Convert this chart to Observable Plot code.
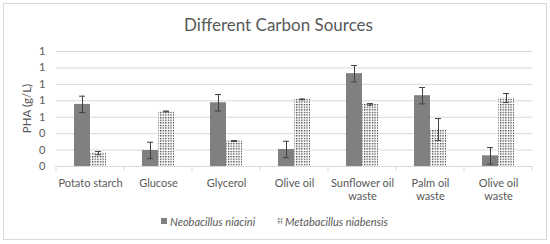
<!DOCTYPE html>
<html>
<head>
<meta charset="utf-8">
<script src="https://cdn.jsdelivr.net/npm/d3@7"></script>
<script src="https://cdn.jsdelivr.net/npm/@observablehq/plot@0.6"></script>
<style>
  html, body { margin: 0; padding: 0; background: #fff; }
</style>
</head>
<body>
<div id="chart"></div>
<script>
const categories = ["Potato starch", "Glucose", "Glycerol", "Olive oil", "Sunflower oil waste", "Palm oil waste", "Olive oil waste"];
const categoryLabels = ["Potato starch", "Glucose", "Glycerol", "Olive oil", "Sunflower oil\nwaste", "Palm oil\nwaste", "Olive oil\nwaste"];
const seriesNames = ["Neobacillus niacini", "Metabacillus niabensis"];
const neoValues = [0.756, 0.195, 0.776, 0.207, 1.13, 0.862, 0.13];
const neoErrors = [0.10, 0.10, 0.10, 0.10, 0.10, 0.10, 0.10];
const metaValues = [0.163, 0.67, 0.31, 0.817, 0.756, 0.45, 0.833];
const metaErrors = [0.02, 0.005, 0.005, 0.005, 0.01, 0.134, 0.055];
const yTicks = [0, 0.2, 0.4, 0.6, 0.8, 1.0, 1.2, 1.4];

const data = [];
categories.forEach((c, i) => {
  data.push({cat: c, series: seriesNames[0], value: neoValues[i], err: neoErrors[i]});
  data.push({cat: c, series: seriesNames[1], value: metaValues[i], err: metaErrors[i]});
});
const neoData = data.filter(d => d.series === seriesNames[0]);
const metaData = data.filter(d => d.series === seriesNames[1]);

const W = 550, H = 244;
const mL = 55, mR = 17, mT = 51, mB = 78;
const FONT = "Lato, 'Open Sans', sans-serif";

const plot = Plot.plot({
  width: W,
  height: H,
  marginLeft: mL,
  marginRight: mR,
  marginTop: mT,
  marginBottom: mB,
  style: {fontFamily: FONT, fontSize: "11px", color: "#595959", background: "#fff"},
  fx: {domain: categories, padding: 0, label: null, axis: null},
  x: {domain: seriesNames, paddingInner: 0, paddingOuter: 1.07, axis: null},
  y: {domain: [0, 1.4], ticks: yTicks, tickFormat: d3.format(".0f"), label: null, tickSize: 0, tickPadding: 11},
  marks: [
    Plot.gridY(yTicks.slice(1), {stroke: "#d9d9d9", strokeOpacity: 1, strokeWidth: 1}),
    Plot.axisFx({anchor: "bottom", tickSize: 0, tickPadding: 11, lineHeight: 1.18, label: null,
      tickFormat: c => categoryLabels[categories.indexOf(c)], fill: "#595959", fontSize: 11}),
    Plot.barY(neoData, {fx: "cat", x: "series", y: "value", fill: "#808080"}),
    Plot.barY(metaData, {fx: "cat", x: "series", y: "value", fill: "url(#dots)"}),
    Plot.ruleY([0], {stroke: "#d9d9d9", strokeWidth: 1}),
    Plot.ruleX(data, {fx: "cat", x: "series", y1: d => d.value - d.err, y2: d => d.value + d.err, stroke: "#404040", strokeWidth: 1}),
    Plot.tickY(data, {fx: "cat", x: "series", y: d => d.value + d.err, stroke: "#404040", strokeWidth: 1, insetLeft: 5, insetRight: 5}),
    Plot.tickY(data, {fx: "cat", x: "series", y: d => d.value - d.err, stroke: "#404040", strokeWidth: 1, insetLeft: 5, insetRight: 5})
  ]
});

const svg = d3.select(plot);
// pattern definition
const defs = svg.insert("defs", ":first-child");
const pat = defs.append("pattern").attr("id", "dots").attr("patternUnits", "userSpaceOnUse")
  .attr("width", 2.6).attr("height", 2.6);
pat.append("rect").attr("width", 2.6).attr("height", 2.6).attr("fill", "#fff");
pat.append("rect").attr("x", 0).attr("y", 0).attr("width", 1.3).attr("height", 1.3).attr("fill", "#3a3a3a");

// outer border
svg.insert("rect", "defs + *").attr("x", 3.5).attr("y", 3.5).attr("width", W - 7).attr("height", H - 8)
  .attr("fill", "none").attr("stroke", "#d9d9d9").attr("stroke-width", 1);

// category separator ticks from the fx scale
const fx = plot.scale("fx");
const y = plot.scale("y");
const y0 = y.apply(0);
const bounds = categories.map(c => fx.apply(c)).concat([fx.apply(categories[categories.length - 1]) + fx.bandwidth]);
svg.append("g").selectAll("line").data(bounds).join("line")
  .attr("x1", d => d).attr("x2", d => d).attr("y1", y0).attr("y2", y0 + 5)
  .attr("stroke", "#d9d9d9").attr("stroke-width", 1);

// title
svg.append("text").attr("x", 278.5).attr("y", 30.5).attr("text-anchor", "middle")
  .attr("fill", "#595959").attr("font-family", FONT).attr("font-size", "17px").text("Different Carbon Sources");

// y label
svg.append("text").attr("transform", `translate(31,${(y.apply(0) + y.apply(1.4)) / 2}) rotate(-90)`)
  .attr("text-anchor", "middle").attr("fill", "#595959").attr("font-family", FONT).attr("font-size", "11.5px").text("PHA (g/L)");

// legend
const lg = svg.append("g").attr("font-family", FONT).attr("font-size", "11px").attr("font-style", "italic")
  .attr("fill", "#595959").attr("text-anchor", "start");
lg.append("rect").attr("x", 161).attr("y", 218).attr("width", 6).attr("height", 6).attr("fill", "#808080");
lg.append("text").attr("x", 170).attr("y", 225.5).text(seriesNames[0]);
lg.append("rect").attr("x", 277).attr("y", 218).attr("width", 6).attr("height", 6).attr("fill", "url(#dots)");
lg.append("text").attr("x", 285).attr("y", 225.5).text(seriesNames[1]);

document.getElementById("chart").appendChild(plot);
</script>
</body>
</html>
